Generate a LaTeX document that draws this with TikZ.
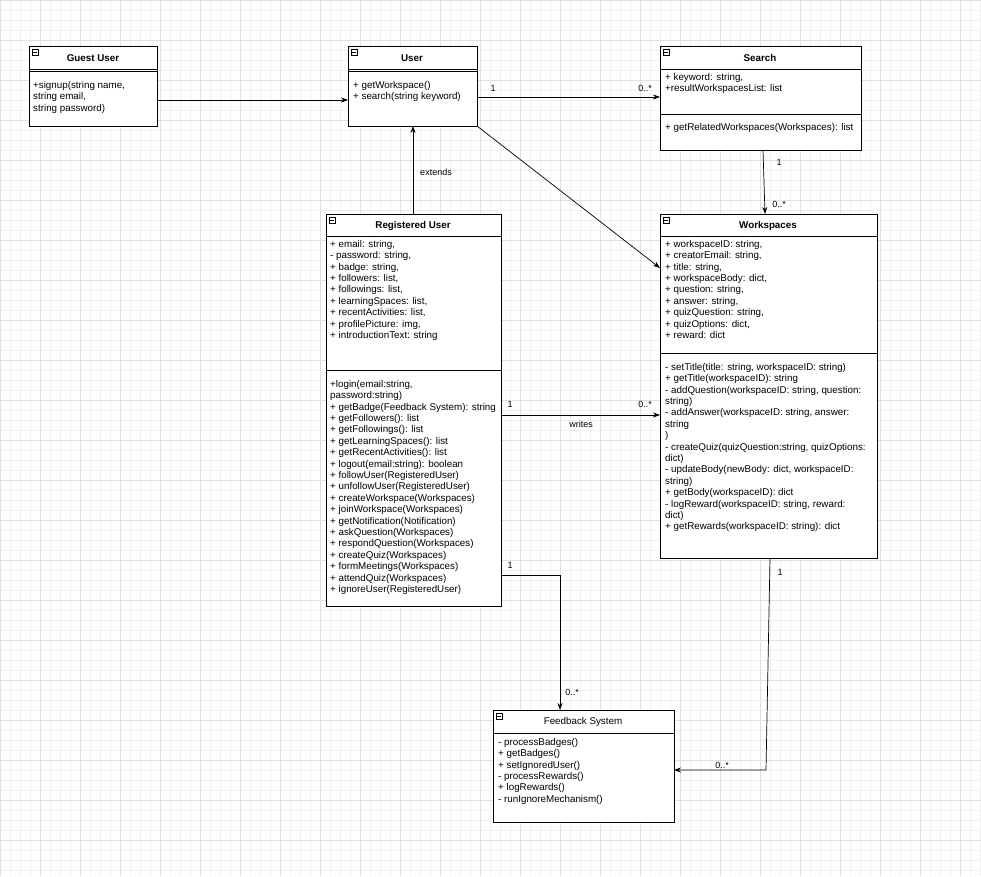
\documentclass[tikz,border=0pt]{standalone}
\usepackage{fontspec}
\setmainfont{Liberation Sans}
\usetikzlibrary{arrows.meta}
\begin{document}
\begin{tikzpicture}[x=1pt,y=-1pt,
  box/.style={draw,line width=0.8pt,fill=white},
  txt/.style={anchor=north west,inner sep=0pt,font=\fontsize{9.8}{11.4}\selectfont,align=left},
  hdr/.style={anchor=center,inner sep=0pt,font=\fontsize{9.8}{11.4}\selectfont\bfseries},
  lbl/.style={inner sep=0pt,font=\fontsize{9}{11}\selectfont},
  arr/.style={-{Stealth[length=7pt,width=5pt]},line width=0.7pt}]
\useasboundingbox (0,0) rectangle (981,876);
\fill[white] (0,0) rectangle (981,876);
\foreach \i in {0,10,...,980} \draw[black!6,line width=0.4pt] (\i,0) -- (\i,876);
\foreach \i in {0,10,...,870} \draw[black!6,line width=0.4pt] (0,\i) -- (981,\i);
\foreach \i in {0,40,...,980} \draw[black!12,line width=0.5pt] (\i,0) -- (\i,876);
\foreach \i in {0,40,...,870} \draw[black!12,line width=0.5pt] (0,\i) -- (981,\i);
\newcommand{\umlbox}[5]{% x1,y1,x2,y2,headerbottom
  \draw[box] (#1,#2) rectangle (#3,#4);
  \draw[line width=0.8pt] (#1,#5) -- (#3,#5);
  \draw[line width=0.5pt,fill=white] (#1+3,#2+3) rectangle (#1+9,#2+9);
  \draw[line width=0.8pt] (#1+4.2,#2+6) -- (#1+7.8,#2+6);}
% Guest
\umlbox{29}{46}{157}{126}{69}
\draw[line width=0.5pt] (29,71.5) -- (157,71.5);
\node[hdr] (guest) at (93,58) {Guest User};
\node[txt] (guestm) at (33,81) {+signup(string name,\\ string email,\\string password)};
% User
\umlbox{348}{46}{477}{126}{69}
\draw[line width=0.5pt] (348,71.5) -- (477,71.5);
\node[hdr] (user) at (412,58) {User};
\node[txt] (userm) at (353,81) {+ getWorkspace()\\+ search(string keyword)};
% Search
\umlbox{660}{46}{861}{150}{69}
\draw[line width=0.5pt] (660,114) -- (861,114);
\node[hdr] (search) at (760,58) {Search};
\node[txt] (searcha) at (665,73) {+ keyword: string,\\+resultWorkspacesList: list};
\node[txt] (searchm) at (665,123) {+ getRelatedWorkspaces(Workspaces): list};
% Registered
\umlbox{326}{214}{501}{606}{236}
\draw[line width=0.5pt] (326,370) -- (501,370);
\node[hdr] (reg) at (413,226) {Registered User};
\node[txt] (rega) at (330,240) {+ email: string,\\- password: string,\\+ badge: string,\\+ followers: list,\\+ followings: list,\\+ learningSpaces: list,\\+ recentActivities: list,\\+ profilePicture: img,\\+ introductionText: string};
\node[txt] (regm) at (330,380) {+login(email:string,\\password:string)\\+ getBadge(Feedback System): string\\+ getFollowers(): list\\+ getFollowings(): list\\+ getLearningSpaces(): list\\+ getRecentActivities(): list\\+ logout(email:string): boolean\\+ followUser(RegisteredUser)\\+ unfollowUser(RegisteredUser)\\+ createWorkspace(Workspaces)\\+ joinWorkspace(Workspaces)\\+ getNotification(Notification)\\+ askQuestion(Workspaces)\\+ respondQuestion(Workspaces)\\+ createQuiz(Workspaces)\\+ formMeetings(Workspaces)\\+ attendQuiz(Workspaces)\\+ ignoreUser(RegisteredUser)};
% Workspaces
\umlbox{660}{214}{877}{558}{236}
\draw[line width=0.5pt] (660,353) -- (877,353);
\node[hdr] (ws) at (768,226) {Workspaces};
\node[txt] (wsa) at (665,240) {+ workspaceID: string,\\+ creatorEmail: string,\\+ title: string,\\+ workspaceBody: dict,\\+ question: string,\\+ answer: string,\\+ quizQuestion: string,\\+ quizOptions: dict,\\+ reward: dict};
\node[txt] (wsm) at (665,363) {- setTitle(title: string, workspaceID: string)\\+ getTitle(workspaceID): string\\- addQuestion(workspaceID: string, question:\\string)\\- addAnswer(workspaceID: string, answer:\\ string\\)\\- createQuiz(quizQuestion:string, quizOptions:\\ dict)\\- updateBody(newBody: dict, workspaceID:\\ string)\\+ getBody(workspaceID): dict\\- logReward(workspaceID: string, reward:\\ dict)\\+ getRewards(workspaceID: string): dict};
% Feedback
\umlbox{493}{710}{674}{822}{733}
\node[inner sep=0pt,font=\fontsize{9.8}{11.4}\selectfont] (fb) at (583,722) {Feedback System};
\node[txt] (fbm) at (498,738) {- processBadges()\\+ getBadges()\\+ setIgnoredUser()\\- processRewards()\\+ logRewards()\\- runIgnoreMechanism()};
% connectors
\coordinate (g1) at (157,100); \coordinate (u1) at (348,100);
\draw[arr] (g1) -- (u1);
\coordinate (u2) at (477,97); \coordinate (s1) at (660,97);
\draw[arr] (u2) -- (s1);
\node[lbl] (l1) at (493,88) {1}; \node[lbl] (l2) at (645,88) {0..*};
\coordinate (s2) at (763,150); \coordinate (w1) at (765,214);
\draw[arr] (s2) -- (w1);
\node[lbl] (l3) at (779,162) {1}; \node[lbl] (l4) at (779,204) {0..*};
\coordinate (u3) at (477,126); \coordinate (w2) at (660,268);
\draw[arr] (u3) -- (w2);
\coordinate (r1) at (413,214); \coordinate (u4) at (413,126);
\draw[arr] (r1) -- (u4);
\node[lbl] (l5) at (436,172) {extends};
\coordinate (r2) at (501,415); \coordinate (w3) at (660,415);
\draw[arr] (r2) -- (w3);
\node[lbl] (l6) at (510,404) {1}; \node[lbl] (l7) at (645,404) {0..*}; \node[lbl] (l8) at (581,424) {writes};
\coordinate (r3) at (501,575); \coordinate (f1) at (560,710);
\draw[arr] (r3) -- (560,575) -- (f1);
\node[lbl] (l9) at (510,565) {1}; \node[lbl] (l10) at (572,692) {0..*};
\coordinate (w4) at (770,558); \coordinate (f2) at (674,770);
\draw[arr] (w4) -- (766,770) -- (f2);
\node[lbl] (l11) at (780,572) {1}; \node[lbl] (l12) at (722,765) {0..*};
\end{tikzpicture}
\end{document}
